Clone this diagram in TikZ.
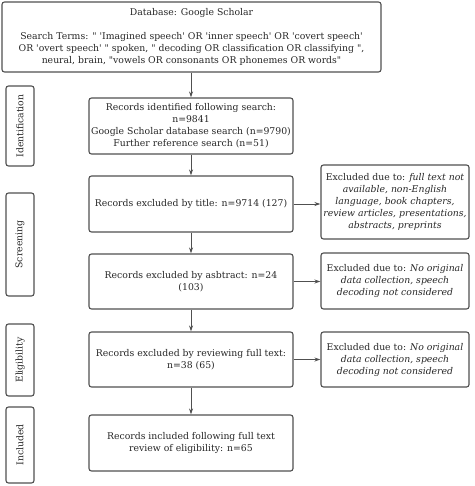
\documentclass[tikz,border=0pt]{standalone}
\usepackage{fontspec}
\setmainfont{DejaVu Serif}[Ligatures=TeXOff]
\usetikzlibrary{arrows.meta}
\definecolor{ln}{HTML}{505050}
\definecolor{tx}{HTML}{262626}
\begin{document}
\begin{tikzpicture}[x=1pt,y=-1pt,
  box/.style={draw=ln,line width=1.1pt,rounded corners=2.5pt,align=center,text=tx,
    font=\fontsize{9.3}{12}\selectfont,inner sep=1pt},
  side/.style={draw=ln,line width=1.1pt,rounded corners=2.5pt,text=tx,
    font=\fontsize{9.3}{12}\selectfont,inner sep=0pt},
  arr/.style={draw=ln,line width=0.8pt,-{Stealth[length=6pt,width=4pt]}}]
\useasboundingbox (0,0) rectangle (474,486);
\node[box,minimum width=379pt,minimum height=70pt] (top) at (191.5,37) {Database: Google Scholar\\[12pt]
Search Terms: " 'Imagined speech' OR 'inner speech' OR 'covert speech'\\
OR 'overt speech' " spoken, " decoding OR classification OR classifying ",\\
neural, brain, "vowels OR consonants OR phonemes OR words"};
\node[box,minimum width=204pt,minimum height=56pt] (b1) at (191,126) {Records identified following search:\\n=9841\\Google Scholar database search (n=9790)\\Further reference search (n=51)};
\node[box,minimum width=204pt,minimum height=56pt] (b2) at (191,204) {Records excluded by title: n=9714 (127)};
\node[box,minimum width=204pt,minimum height=55pt] (b3) at (191,281.5) {Records excluded by asbtract: n=24\\(103)};
\node[box,minimum width=204pt,minimum height=55pt] (b4) at (191,359.5) {Records excluded by reviewing full text:\\n=38 (65)};
\node[box,minimum width=204pt,minimum height=56pt] (b5) at (191,443) {Records included following full text\\review of eligibility: n=65};
\node[box,minimum width=148pt,minimum height=74pt] (r1) at (395,202) {Excluded due to: \textit{full text not}\\\textit{available, non-English}\\\textit{language, book chapters,}\\\textit{review articles, presentations,}\\\textit{abstracts, preprints}};
\node[box,minimum width=148pt,minimum height=56pt] (r2) at (395,281) {Excluded due to: \textit{No original}\\\textit{data collection, speech}\\\textit{decoding not considered}};
\node[box,minimum width=148pt,minimum height=55pt] (r3) at (395,359.5) {Excluded due to: \textit{No original}\\\textit{data collection, speech}\\\textit{decoding not considered}};
\node[side,minimum width=80pt,minimum height=28pt,rotate=90] (s1) at (20,126) {Identification};
\node[side,minimum width=103pt,minimum height=28pt,rotate=90] (s2) at (20,244.5) {Screening};
\node[side,minimum width=72pt,minimum height=28pt,rotate=90] (s3) at (20,360) {Eligibility};
\node[side,minimum width=76pt,minimum height=28pt,rotate=90] (s4) at (20,445) {Included};
\draw[arr] (top.south -| b1.north) -- (b1.north);
\draw[arr] (b1) -- (b2);
\draw[arr] (b2) -- (b3);
\draw[arr] (b3) -- (b4);
\draw[arr] (b4) -- (b5);
\draw[arr] (b2.east) -- (b2.east -| r1.west);
\draw[arr] (b3.east) -- (b3.east -| r2.west);
\draw[arr] (b4.east) -- (b4.east -| r3.west);
\end{tikzpicture}
\end{document}
